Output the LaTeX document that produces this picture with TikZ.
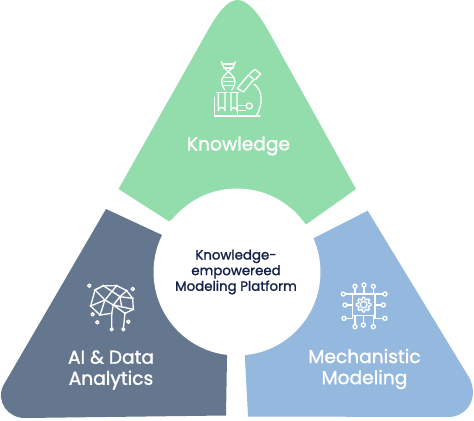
\documentclass[tikz,border=0pt]{standalone}
\usepackage{fontspec}
\setmainfont{Poppins}[FakeBold=1.5]
\usepackage{tikz}
\definecolor{knowgreen}{HTML}{92DDAB}
\definecolor{aislate}{HTML}{64778F}
\definecolor{mechblue}{HTML}{95B8DF}
\definecolor{hubnavy}{HTML}{14234B}
\tikzset{
  petallabel/.style={font=\fontsize{10.6}{12}\selectfont, text=white, align=center, inner sep=0pt},
  hublabel/.style={font=\fontsize{7.6}{8.9}\selectfont, text=hubnavy, align=center, inner sep=0pt},
  iconline/.style={draw=white, line width=0.75pt, line cap=round, line join=round},
  iconpin/.style={iconline, fill=none}
}
\begin{document}
\begin{tikzpicture}[x=0.02cm, y=-0.02cm]
  \useasboundingbox (0,0) rectangle (474,420);
  % three petals
  \fill[knowgreen] (118.5,189) -- (207,32) .. controls (218,12) and (228,0) .. (237.5,0)
    .. controls (247,0) and (258,12) .. (269,32) -- (356,189) -- (306.7,224) -- (237,200) -- (168.5,221) -- cycle;
  \fill[aislate] (106,209) -- (162,235) -- (228,300) -- (226,415.5) -- (25,418)
    .. controls (8,418) and (-4,402) .. (3,386) -- cycle;
  \fill[mechblue] (367.7,210.7) -- (314,238) -- (242,300) -- (248,416.5) -- (448,417)
    .. controls (466,417) and (479,400) .. (470,379) -- cycle;
  % hub
  \node[circle, fill=white, minimum size=3.34cm, inner sep=0pt] (hub) at (237,272) {};
  \node[hublabel] (hubtext) at (236,272) {Knowledge-\\empowereed\\Modeling Platform};
  \node[petallabel] (knowledge) at (238.5,146) {Knowledge};
  \node[petallabel] (aidata) at (111,370) {AI \& Data\\Analytics};
  \node[petallabel] (mechanistic) at (364.5,369) {Mechanistic\\Modeling};
  % lab icon
  \begin{scope}[shift={(180,40)}, scale=0.3333]
    \draw[iconline] (125,65) .. controls (125,90) and (165,100) .. (165,125) .. controls (165,135) and (160,145) .. (155,150);
    \draw[iconline] (165,65) .. controls (165,90) and (125,100) .. (125,125) .. controls (125,135) and (130,145) .. (135,150);
    \foreach \y in {72,84,112,124,136} \draw[iconline] (131,\y) -- (160,\y);
    \draw[iconline] (110,158) -- (140,158) (148,158) -- (176,158);
    \draw[iconline] (115,158) -- (115,212) arc[start angle=180, end angle=360, radius=10] -- (135,158);
    \draw[iconline] (153,158) -- (153,212) arc[start angle=180, end angle=360, radius=9] -- (171,158);
    \draw[iconline] (104,172) -- (104,228) -- (240,228);
    \draw[iconline] (172,145) -- (205,105) -- (222,118) -- (190,156) -- cycle;
    \draw[iconline] (208,102) -- (225,88) -- (242,102) -- (225,120);
    \draw[iconline] (222,132) .. controls (248,150) and (250,190) .. (230,226);
    \draw[iconline] (172,196) -- (197,196) (172,212) -- (197,212) (172,196) -- (172,228);
    \draw[iconline] (208,198) circle[radius=9];
  \end{scope}
  % network icon
  \begin{scope}[shift={(70,270)}, scale=0.3333]
    \draw[iconline] (62,108) -- (75,60) -- (100,47) -- (140,47) -- (170,62) -- (188,85) -- (190,118) -- (165,130) -- (160,178)
      (125,178) -- (125,130) -- (90,135) -- (62,108);
    \draw[iconline] (75,60) -- (105,90) -- (62,108) (100,47) -- (150,80) -- (188,85) (140,47) -- (105,90) -- (130,105) -- (125,130)
      (170,62) -- (150,80) -- (130,105) -- (190,118) (105,90) -- (90,135) (100,47) -- (75,60) (130,105) -- (165,130) (150,80) -- (155,110);
    \foreach \px/\py in {75/60,100/47,140/47,170/62,188/85,190/118,165/130,125/130,90/135,62/108,105/90,150/80,130/105,155/110}
      \fill[white] (\px,\py) circle[radius=3.6];
    \foreach \px/\py in {125/178,160/178}
      \filldraw[iconline, fill=aislate] (\px,\py) circle[radius=4.5];
    \foreach \px/\py in {58/47,188/57,68/133,82/157,175/155}
      \draw[iconline] (\px-5,\py) -- (\px,\py-5) -- (\px+5,\py) -- (\px,\py+5) -- cycle;
  \end{scope}
  % chip icon
  \begin{scope}[shift={(330,270)}, scale=0.3333]
    \draw[iconline] (68,72) rectangle (135,137);
    \draw[iconline] (46,72) -- (68,72) (75,55) -- (75,72) (102,51) -- (102,72) (130,55) -- (130,72) (159,72) -- (135,72)
      (51,105) -- (68,105) (154,105) -- (135,105) (48,145) -- (68,145) -- (68,137) (159,145) -- (135,145) -- (135,137)
      (75,164) -- (75,137) (100,159) -- (100,137) (130,164) -- (130,137);
    \foreach \px/\py in {40/72,75/49,102/45,130/49,165/72,45/105,160/105,42/145,165/145,75/170,100/165,130/170}
      \draw[iconpin] (\px,\py) circle[radius=6];
    \begin{scope}[shift={(101,104)}]
      \draw[iconline] plot[samples=97, domain=0:360] (\x:{19+3*sign(cos(8*\x))}) -- cycle;
      \draw[iconline] (0,0) circle[radius=10];
    \end{scope}
  \end{scope}
\end{tikzpicture}
\end{document}
